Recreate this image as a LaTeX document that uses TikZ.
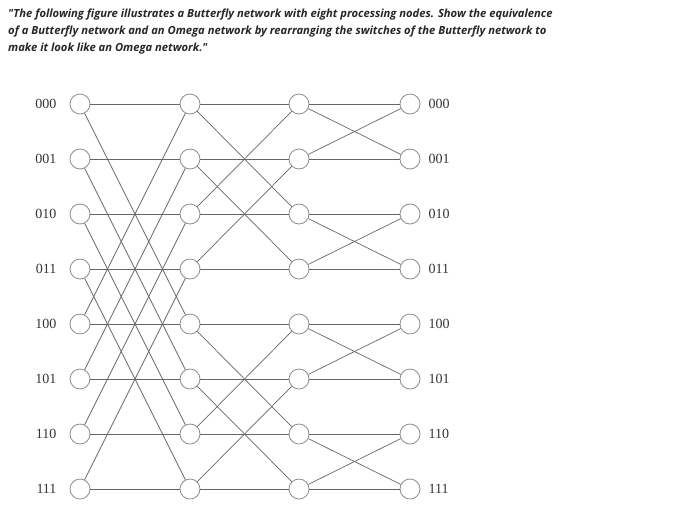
\documentclass[tikz,border=0pt]{standalone}
\usepackage{fontspec}
\setmainfont{Liberation Serif}
\newfontfamily\titlefont{Open Sans}
\begin{document}
\begin{tikzpicture}[x=1pt,y=-1pt,
  sw/.style={circle,draw=black!45,line width=0.8pt,minimum size=20pt,inner sep=0pt},
  ln/.style={draw=black!60,line width=0.7pt},
  lab/.style={font=\fontsize{14}{14}\selectfont,text=black!80}]
\useasboundingbox (0,0) rectangle (676,515);
\node[anchor=north west,align=left,font=\titlefont\bfseries\itshape\fontsize{11.2}{17}\selectfont,text=black!85,inner sep=0pt] (t) at (8,9)
{"The following figure illustrates a Butterfly network with eight processing nodes. Show the equivalence\\ of a Butterfly network and an Omega network by rearranging the switches of the Butterfly network to\\ make it look like an Omega network."};
\foreach \c/\x in {0/80,1/190,2/299,3/410}{
  \foreach \r in {0,...,7}{
    \node[sw] (n\c\r) at (\x,{104+55*\r}) {};
  }
}
\foreach \r/\l in {0/000,1/001,2/010,3/011,4/100,5/101,6/110,7/111}{
  \node[lab,anchor=east] (L\r) at (60,{104+55*\r}) {\l};
  \node[lab,anchor=west] (R\r) at (425,{104+55*\r}) {\l};
}
\foreach \r in {0,...,7}{
  \pgfmathtruncatemacro{\a}{\r<4 ? \r+4 : \r-4}
  \pgfmathtruncatemacro{\b}{mod(\r,4)<2 ? \r+2 : \r-2}
  \pgfmathtruncatemacro{\cc}{mod(\r,2)==0 ? \r+1 : \r-1}
  \draw[ln] (n0\r) -- (n1\r);
  \draw[ln] (n0\r) -- (n1\a);
  \draw[ln] (n1\r) -- (n2\r);
  \draw[ln] (n1\r) -- (n2\b);
  \draw[ln] (n2\r) -- (n3\r);
  \draw[ln] (n2\r) -- (n3\cc);
}
\end{tikzpicture}
\end{document}
